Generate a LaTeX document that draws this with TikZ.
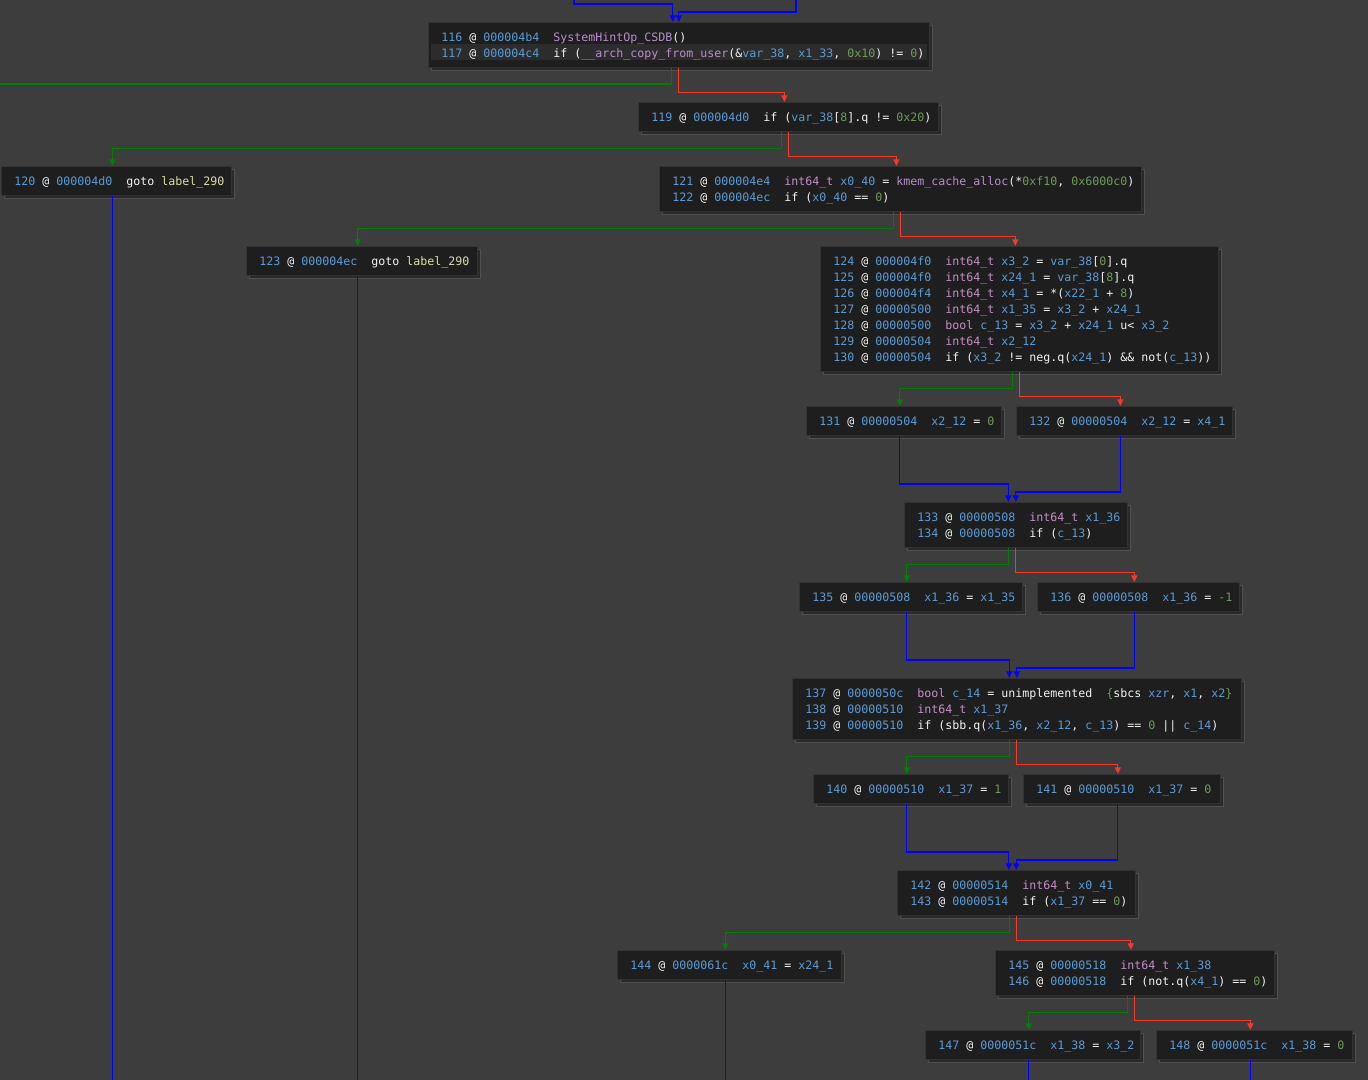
\documentclass[tikz,border=0pt]{standalone}
\usepackage{fontspec}
\setmonofont{DejaVu Sans Mono}
\usetikzlibrary{positioning,arrows.meta,calc,shadows}
\definecolor{cBg}{HTML}{3D3D3D}
\definecolor{cBox}{HTML}{1E1E1E}
\definecolor{cBd}{HTML}{333333}
\definecolor{cSh}{HTML}{2A2A2A}
\definecolor{cShBd}{HTML}{505050}
\definecolor{cHl}{HTML}{2C2C2C}
\definecolor{cTxt}{HTML}{F2F2F2}
\definecolor{cNum}{HTML}{5A9BD5}
\definecolor{cVar}{HTML}{5A9BD5}
\definecolor{cTyp}{HTML}{C88CC8}
\definecolor{cFun}{HTML}{B68ECB}
\definecolor{cLit}{HTML}{6E9B5A}
\definecolor{cLab}{HTML}{DCDCAA}
\definecolor{cBlue}{HTML}{0000FF}
\definecolor{cGreen}{HTML}{008000}
\definecolor{cRed}{HTML}{F53A2A}

\newcommand{\codefont}{\ttfamily\fontsize{8.72}{12}\selectfont\frenchspacing}
\newcommand{\cstrut}{\rule[-2.25pt]{0pt}{11.25pt}}
\newcommand{\kVar}[1]{\textcolor{cVar}{#1}}
\newcommand{\kTyp}[1]{\textcolor{cTyp}{#1}}
\newcommand{\kFun}[1]{\textcolor{cFun}{#1}}
\newcommand{\kNum}[1]{\textcolor{cLit}{#1}}
\newcommand{\kLab}[1]{\textcolor{cLab}{#1}}
% one listing line: index, address, code (full-width spaces, align=left narrows them)
\newcommand{\cl}[3]{\mbox{\spaceskip=0pt\xspaceskip=0pt\cstrut\textcolor{cNum}{#1} @ \textcolor{cNum}{#2}\ \ #3}}

\begin{document}
\begin{tikzpicture}[x=0.75pt, y=-0.75pt,
    blk/.style={anchor=north west, fill=cBox, draw=cBd, line width=0.5pt, inner xsep=9.75pt, inner ysep=2pt,
      align=left, font=\codefont, text=cTxt,
      drop shadow={shadow xshift=2.25pt, shadow yshift=-2.25pt, fill=cSh, draw=cShBd, line width=0.5pt, opacity=1}},
    sz/.style 2 args={minimum width=#1*0.75pt, minimum height=#2*0.75pt, text width=#1*0.75pt-19.5pt},
    tip/.style={-{Triangle[width=4.5pt,length=5pt]}},
    bE/.style={tip, draw=cBlue, line width=0.9pt},
    gE/.style={tip, draw=cGreen, line width=0.9pt},
    rE/.style={tip, draw=cRed, line width=0.9pt}]
  \useasboundingbox (0,0) rectangle (1368,1080);
  \clip (0,0) rectangle (1368,1080);
  \fill[cBg] (0,0) rectangle (1368,1080);

  % ---------------- blocks
  \node[blk, sz={501}{45}, path picture={\fill[cHl] ($(path picture bounding box.north west)+(3,22)$) rectangle ($(path picture bounding box.north east)+(-2,38)$);}] (b116) at (428,22)
    {\cl{116}{000004b4}{\kFun{SystemHintOp\_CSDB}()}\\
     \cl{117}{000004c4}{if (\kFun{\_\_arch\_copy\_from\_user}(\&\kVar{var\_38}, \kVar{x1\_33}, \kNum{0x10}) != \kNum{0})}};
  \node[blk, sz={300}{29}] (b119) at (638,102) {\cl{119}{000004d0}{if (\kVar{var\_38}[\kNum{8}].q != \kNum{0x20})}};
  \node[blk, sz={230}{29}] (b120) at (1,166) {\cl{120}{000004d0}{goto \kLab{label\_290}}};
  \node[blk, sz={482}{45}] (b121) at (659,166)
    {\cl{121}{000004e4}{\kTyp{int64\_t} \kVar{x0\_40} = \kFun{kmem\_cache\_alloc}(*\kNum{0xf10}, \kNum{0x6000c0})}\\
     \cl{122}{000004ec}{if (\kVar{x0\_40} == \kNum{0})}};
  \node[blk, sz={231}{29}] (b123) at (246,246) {\cl{123}{000004ec}{goto \kLab{label\_290}}};
  \node[blk, sz={398}{125}] (b124) at (820,246)
    {\cl{124}{000004f0}{\kTyp{int64\_t} \kVar{x3\_2} = \kVar{var\_38}[\kNum{0}].q}\\
     \cl{125}{000004f0}{\kTyp{int64\_t} \kVar{x24\_1} = \kVar{var\_38}[\kNum{8}].q}\\
     \cl{126}{000004f4}{\kTyp{int64\_t} \kVar{x4\_1} = *(\kVar{x22\_1} + \kNum{8})}\\
     \cl{127}{00000500}{\kTyp{int64\_t} \kVar{x1\_35} = \kVar{x3\_2} + \kVar{x24\_1}}\\
     \cl{128}{00000500}{\kTyp{bool} \kVar{c\_13} = \kVar{x3\_2} + \kVar{x24\_1} u< \kVar{x3\_2}}\\
     \cl{129}{00000504}{\kTyp{int64\_t} \kVar{x2\_12}}\\
     \cl{130}{00000504}{if (\kVar{x3\_2} != neg.q(\kVar{x24\_1}) \&\& not(\kVar{c\_13}))}};
  \node[blk, sz={195}{29}] (b131) at (806,406) {\cl{131}{00000504}{\kVar{x2\_12} = \kNum{0}}};
  \node[blk, sz={216}{29}] (b132) at (1016,406) {\cl{132}{00000504}{\kVar{x2\_12} = \kVar{x4\_1}}};
  \node[blk, sz={223}{45}] (b133) at (904,502)
    {\cl{133}{00000508}{\kTyp{int64\_t} \kVar{x1\_36}}\\
     \cl{134}{00000508}{if (\kVar{c\_13})}};
  \node[blk, sz={223}{29}] (b135) at (799,582) {\cl{135}{00000508}{\kVar{x1\_36} = \kVar{x1\_35}}};
  \node[blk, sz={202}{29}] (b136) at (1037,582) {\cl{136}{00000508}{\kVar{x1\_36} = \kNum{-1}}};
  \node[blk, sz={449}{61}] (b137) at (792,678)
    {\cl{137}{0000050c}{\kTyp{bool} \kVar{c\_14} = unimplemented\ \ \kNum{\{}sbcs \kVar{xzr}, \kVar{x1}, \kVar{x2}\kNum{\}}}\\
     \cl{138}{00000510}{\kTyp{int64\_t} \kVar{x1\_37}}\\
     \cl{139}{00000510}{if (sbb.q(\kVar{x1\_36}, \kVar{x2\_12}, \kVar{c\_13}) == \kNum{0} || \kVar{c\_14})}};
  \node[blk, sz={195}{29}] (b140) at (813,774) {\cl{140}{00000510}{\kVar{x1\_37} = \kNum{1}}};
  \node[blk, sz={197}{29}] (b141) at (1023,774) {\cl{141}{00000510}{\kVar{x1\_37} = \kNum{0}}};
  \node[blk, sz={238}{45}] (b142) at (897,870)
    {\cl{142}{00000514}{\kTyp{int64\_t} \kVar{x0\_41}}\\
     \cl{143}{00000514}{if (\kVar{x1\_37} == \kNum{0})}};
  \node[blk, sz={224}{29}] (b144) at (617,950) {\cl{144}{0000061c}{\kVar{x0\_41} = \kVar{x24\_1}}};
  \node[blk, sz={279}{45}] (b145) at (995,950)
    {\cl{145}{00000518}{\kTyp{int64\_t} \kVar{x1\_38}}\\
     \cl{146}{00000518}{if (not.q(\kVar{x4\_1}) == \kNum{0})}};
  \node[blk, sz={215}{29}] (b147) at (925,1030) {\cl{147}{0000051c}{\kVar{x1\_38} = \kVar{x3\_2}}};
  \node[blk, sz={196}{29}] (b148) at (1156,1030) {\cl{148}{0000051c}{\kVar{x1\_38} = \kNum{0}}};

  % ---------------- ends outside the view
  \coordinate (up1) at (574,-5);
  \coordinate (up2) at (796,-5);
  \coordinate (lft) at (-5,84);
  \coordinate (bot) at (0,1090);

  % ---------------- edges
  \draw[bE] (up1) |- ($(b116.north)+(-6,-18)$) -- ($(b116.north)+(-6,0)$);
  \draw[bE] (up2) |- ($(b116.north)+(0,-10)$) -- (b116.north);
  \draw[gE,-] ($(b116.south)+(-7,0)$) |- (lft);
  \draw[rE] (b116.south) -- ++(0,25) -| ($(b119.north)+(-4,0)$);
  \draw[gE] ($(b119.south)+(-7,0)$) -- ++(0,17) -| ($(b120.north)+(-4,0)$);
  \draw[rE] (b119.south) -- ++(0,25) -| ($(b121.north)+(-4,0)$);
  \draw[gE] ($(b121.south)+(-7,0)$) -- ++(0,17) -| ($(b123.north)+(-4,0)$);
  \draw[rE] (b121.south) -- ++(0,25) -| ($(b124.north)+(-4,0)$);
  \draw[gE] ($(b124.south)+(-7,0)$) -- ++(0,17) -| ($(b131.north)+(-4,0)$);
  \draw[rE] (b124.south) -- ++(0,25) -| ($(b132.north)+(-4,0)$);
  \draw[bE] ($(b131.south)+(-4,0)$) |- ($(b133.north)+(-7.5,-18)$) -- ($(b133.north)+(-7.5,0)$);
  \draw[bE] ($(b132.south)+(-4,0)$) |- ($(b133.north)+(0,-10)$) -- (b133.north);
  \draw[gE] ($(b133.south)+(-7,0)$) -- ++(0,17) -| ($(b135.north)+(-4,0)$);
  \draw[rE] (b133.south) -- ++(0,25) -| ($(b136.north)+(-4,0)$);
  \draw[bE] ($(b135.south)+(-4,0)$) |- ($(b137.north)+(-7.5,-18)$) -- ($(b137.north)+(-7.5,0)$);
  \draw[bE] ($(b136.south)+(-4,0)$) |- ($(b137.north)+(0,-10)$) -- (b137.north);
  \draw[gE] ($(b137.south)+(-7,0)$) -- ++(0,17) -| ($(b140.north)+(-4,0)$);
  \draw[rE] (b137.south) -- ++(0,25) -| ($(b141.north)+(-4,0)$);
  \draw[bE] ($(b140.south)+(-4,0)$) |- ($(b142.north)+(-7.5,-18)$) -- ($(b142.north)+(-7.5,0)$);
  \draw[bE] ($(b141.south)+(-4,0)$) |- ($(b142.north)+(0,-10)$) -- (b142.north);
  \draw[gE] ($(b142.south)+(-7,0)$) -- ++(0,17) -| ($(b144.north)+(-4,0)$);
  \draw[rE] (b142.south) -- ++(0,25) -| ($(b145.north)+(-4,0)$);
  \draw[gE] ($(b145.south)+(-7,0)$) -- ++(0,17) -| ($(b147.north)+(-4,0)$);
  \draw[rE] (b145.south) -- ++(0,25) -| ($(b148.north)+(-4,0)$);
  \foreach \b in {b120,b123,b144,b147,b148}
    \draw[bE,-] ($(\b.south)+(-4,0)$) coordinate (ex) -- (ex |- bot);
\end{tikzpicture}
\end{document}
